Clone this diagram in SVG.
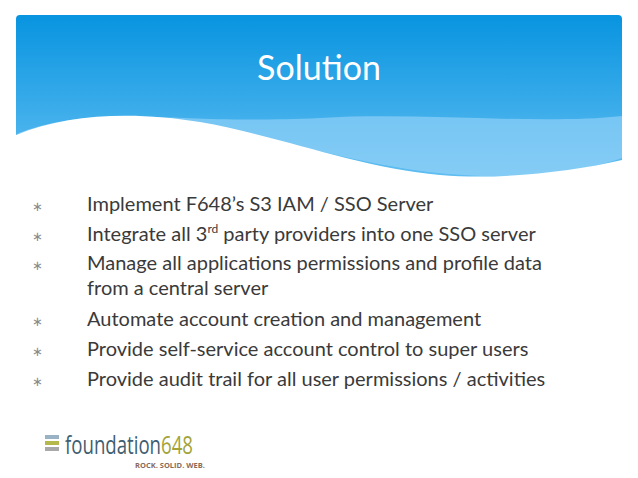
<svg xmlns="http://www.w3.org/2000/svg" width="638" height="478" viewBox="0 0 638 478">
<defs>
<linearGradient id="bg" x1="0" y1="0" x2="0" y2="1">
<stop offset="0" stop-color="#0894e0"/><stop offset="1" stop-color="#62bff2"/>
</linearGradient>
<style>
.b{font-family:Lato,"Open Sans",sans-serif;font-size:20px;fill:#3a3a3a}
.s{font-family:"DejaVu Sans",sans-serif;font-size:13px;fill:#8a8a8a}
</style>
</defs>
<g id="header">
<rect x="16" y="15" width="606" height="165" rx="4" fill="url(#bg)"/>
<path d="M16 134 C80 110 150 112 250 135 S420 178 510 176 C560 174 600 166 622 158 L622 116 C540 125 420 112 320 118 C230 122 180 117 150 117 Z" fill="#9dd6f8" opacity="0.6"/>
<path d="M16 135 C70 112 140 112 200 122 C280 136 360 168 440 175 C500 180 570 172 622 160 L622 190 L16 190 Z" fill="#fff"/>
<text x="319" y="80" text-anchor="middle" font-family="Lato,'Open Sans',sans-serif" font-size="34" fill="#fff">Solution</text>
</g>
<g id="bullets">
<text class="s" x="32" y="211">∗</text><text class="b" x="87" y="211">Implement F648’s S3 IAM / SSO Server</text>
<text class="s" x="32" y="241">∗</text><text class="b" x="87" y="241">Integrate all 3<tspan font-size="12" dy="-8">rd</tspan><tspan dy="8"> party providers into one SSO server</tspan></text>
<text class="s" x="32" y="270">∗</text><text class="b" x="87" y="270">Manage all applications permissions and profile data</text>
<text class="b" x="87" y="295">from a central server</text>
<text class="s" x="32" y="326">∗</text><text class="b" x="87" y="326">Automate account creation and management</text>
<text class="s" x="32" y="356">∗</text><text class="b" x="87" y="356">Provide self-service account control to super users</text>
<text class="s" x="32" y="386">∗</text><text class="b" x="87" y="386">Provide audit trail for all user permissions / activities</text>
</g>
<g id="logo">
<rect x="45" y="435" width="14" height="4" fill="#9ab3c4"/>
<rect x="45" y="441" width="14" height="4" fill="#b5b84a"/>
<rect x="45" y="447" width="14" height="4" fill="#a8a8a8"/>
<text x="65" y="454" font-family="'Open Sans',sans-serif" font-size="26" fill="#3f5e70" textLength="128" lengthAdjust="spacingAndGlyphs">foundation<tspan fill="#a3a33a">648</tspan></text>
<text x="135" y="468" font-family="'Open Sans',sans-serif" font-size="7.5" font-weight="bold" fill="#8a6a5a">ROCK. SOLID. WEB.</text>
</g>
</svg>
